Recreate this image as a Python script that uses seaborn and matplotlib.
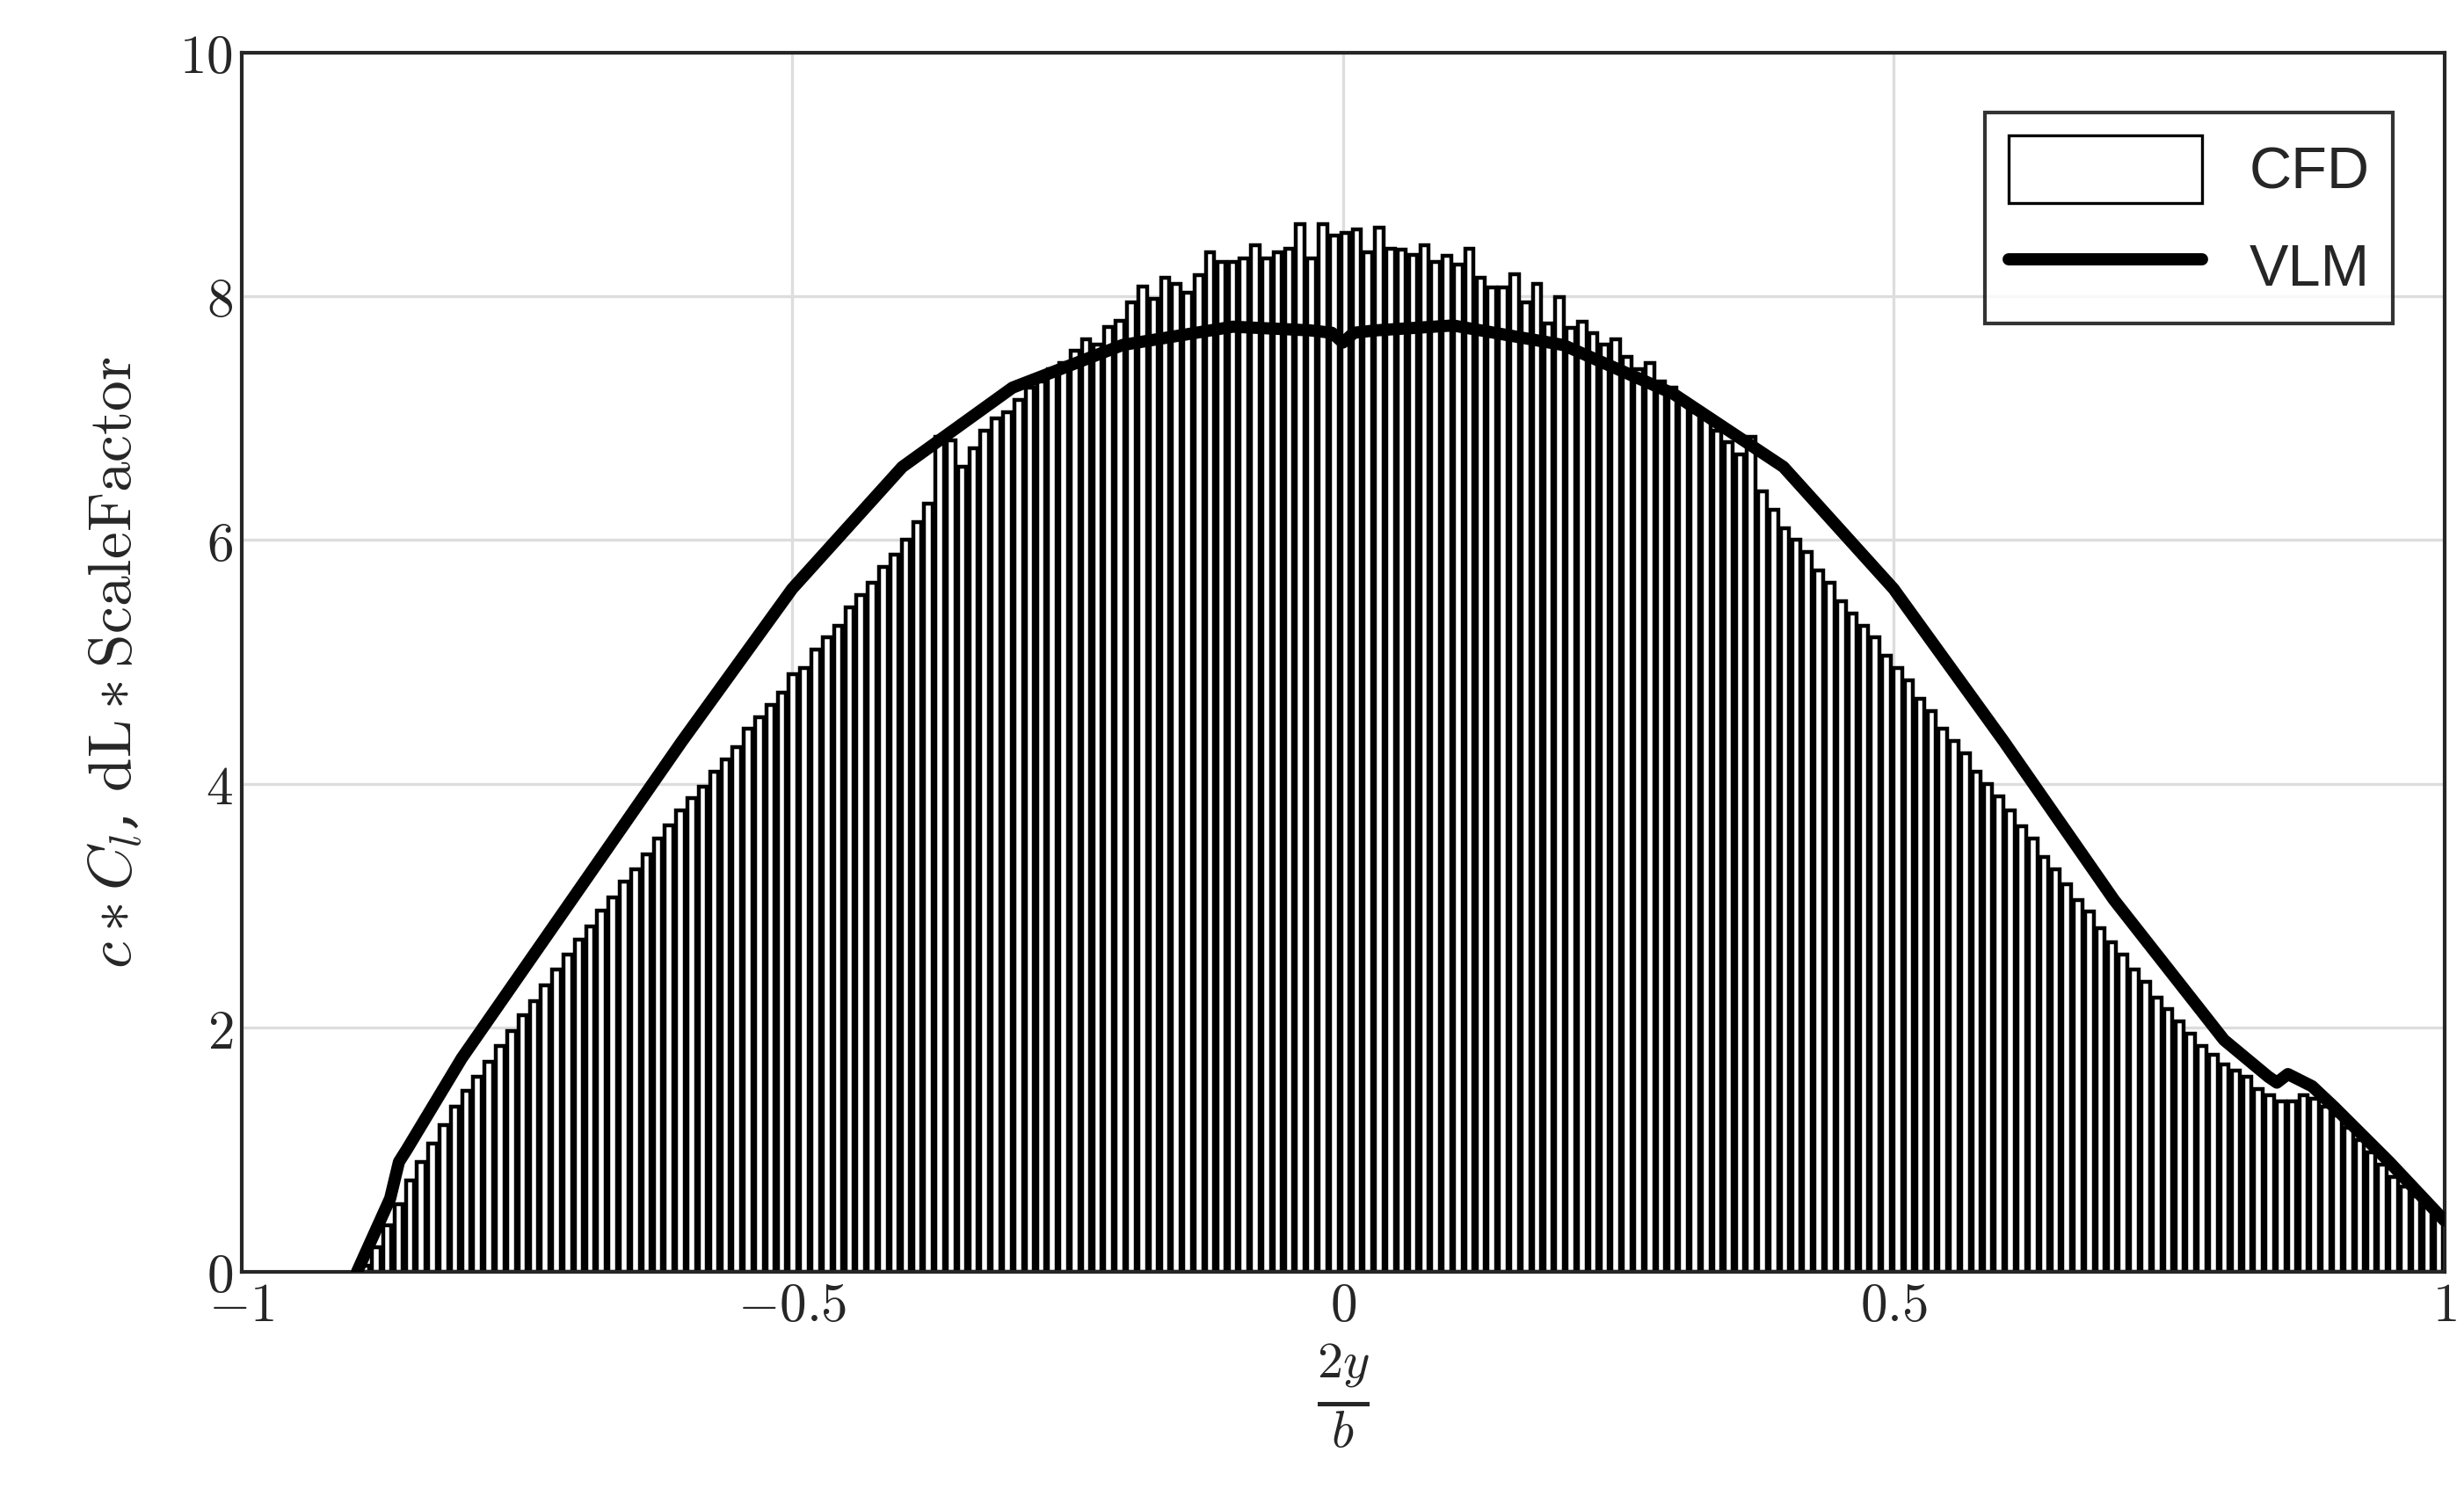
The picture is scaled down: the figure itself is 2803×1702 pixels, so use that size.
import numpy as np
import pandas as pd
import matplotlib
matplotlib.use("Agg")
import matplotlib.pyplot as plt
import seaborn as sns
from matplotlib.patches import Patch
from matplotlib.lines import Line2D

# CFD sectional lift, bar heights read left to right
cfd_values = [
    0.05, 0.2, 0.38, 0.55, 0.75, 0.9, 1.05, 1.2, 1.35, 1.48,
    1.6, 1.72, 1.85, 1.97, 2.1, 2.22, 2.35, 2.48, 2.6, 2.72,
    2.83, 2.96, 3.07, 3.2, 3.3, 3.42, 3.55, 3.66, 3.78, 3.88,
    3.98, 4.1, 4.2, 4.3, 4.45, 4.55, 4.65, 4.75, 4.9, 4.95,
    5.1, 5.2, 5.3, 5.45, 5.55, 5.65, 5.78, 5.88, 6.0, 6.15,
    6.3, 6.85, 6.82, 6.6, 6.75, 6.9, 7.0, 7.05, 7.15, 7.25,
    7.3, 7.4, 7.45, 7.55, 7.65, 7.6, 7.75, 7.8, 7.95,
    8.08, 7.98, 8.15, 8.10, 8.03, 8.17, 8.36, 8.28, 8.28, 8.31,
    8.42, 8.31, 8.36, 8.39, 8.59, 8.31, 8.59, 8.50, 8.52, 8.55,
    8.36, 8.56, 8.39, 8.38, 8.34, 8.42, 8.28, 8.33, 8.26, 8.39,
    8.15, 8.07, 8.07, 8.18, 7.95, 8.10, 7.78, 7.99, 7.74, 7.79,
    7.7, 7.6, 7.65, 7.5, 7.4, 7.45, 7.3, 7.25, 7.15, 7.05,
    7.0, 6.9, 6.8, 6.7, 6.85, 6.4, 6.25, 6.1, 6.0, 5.9,
    5.75, 5.65, 5.5, 5.4, 5.3, 5.2, 5.05, 4.95, 4.85, 4.7,
    4.6, 4.45, 4.35, 4.25, 4.1, 4.0, 3.9, 3.78, 3.65, 3.55,
    3.4, 3.3, 3.18, 3.05, 2.95, 2.82, 2.7, 2.6, 2.48, 2.38,
    2.25, 2.15, 2.05, 1.95, 1.85, 1.78, 1.7, 1.65, 1.6, 1.5,
    1.45, 1.4, 1.4, 1.45, 1.42, 1.35, 1.28, 1.18, 1.08, 0.98,
    0.88, 0.78, 0.7, 0.62, 0.55, 0.45,
]
cfd_first, cfd_last = -0.888, 0.995

# VLM distribution
vlm_x = [-0.895, -0.88, -0.865, -0.857, -0.85, -0.8, -0.7, -0.6, -0.5, -0.4,
         -0.3, -0.2, -0.1, -0.03, -0.01, 0.0, 0.01, 0.03, 0.1, 0.2, 0.3, 0.4,
         0.5, 0.6, 0.7, 0.8, 0.84, 0.848, 0.858, 0.88, 0.9, 0.95, 1.0]
vlm_y = [0.0, 0.3, 0.6, 0.9, 1.0, 1.75, 3.05, 4.35, 5.6, 6.6,
         7.25, 7.6, 7.75, 7.72, 7.7, 7.62, 7.7, 7.72, 7.76, 7.6, 7.2, 6.6,
         5.6, 4.35, 3.05, 1.9, 1.6, 1.55, 1.62, 1.52, 1.35, 0.9, 0.42]

sns.set_style("white")
plt.rcParams["mathtext.fontset"] = "cm"
plt.rcParams["font.family"] = ["DejaVu Serif"]

n = len(cfd_values)
step = (cfd_last - cfd_first) / (n - 1)
centers = np.linspace(cfd_first, cfd_last, n)
df = pd.DataFrame({"x": centers, "v": cfd_values})

fig = plt.figure(figsize=(14.015, 8.51), dpi=200)
ax = fig.add_axes([0.098, 0.150, 0.894, 0.815])

sns.histplot(data=df, x="x", weights="v", binwidth=step,
             binrange=(cfd_first - step / 2, cfd_last + step / 2), ax=ax,
             color="white", edgecolor="black", linewidth=1.6, alpha=1,
             shrink=0.75, zorder=2)
sns.lineplot(x=vlm_x, y=vlm_y, ax=ax, color="black", linewidth=5, zorder=3)

ax.set_xlim(-1, 1)
ax.set_ylim(0, 10)
ax.set_xticks([-1, -0.5, 0, 0.5, 1])
ax.set_xticklabels([r"$-1$", r"$-0.5$", r"$0$", r"$0.5$", r"$1$"])
ax.set_yticks([0, 2, 4, 6, 8, 10])
ax.set_yticklabels([r"$0$", r"$2$", r"$4$", r"$6$", r"$8$", r"$10$"])
ax.tick_params(labelsize=22, colors="#262626", direction="in", length=6, width=1)
ax.grid(True, color="#dddddd", linewidth=1.2, zorder=0)
ax.set_axisbelow(True)
for s in ax.spines.values():
    s.set_color("#262626")
    s.set_linewidth(1.5)

ax.set_xlabel(r"$\frac{2y}{b}$", fontsize=30, color="#262626", labelpad=4)
ax.set_ylabel(r"$c * C_l$, $\mathrm{dL*ScaleFactor}$", fontsize=25,
              color="#262626", labelpad=14)

handles = [Patch(facecolor="white", edgecolor="black", linewidth=1.2),
           Line2D([0], [0], color="black", linewidth=5)]
leg = ax.legend(handles, ["CFD", "VLM"], loc="upper right",
                prop={"family": "Liberation Sans", "size": 24},
                frameon=True, fancybox=False, edgecolor="black",
                handlelength=3.3, handleheight=1.4, borderpad=0.4,
                bbox_to_anchor=(0.99, 0.975))
leg.get_frame().set_linewidth(1.5)

fig.savefig("out.png", dpi=200)
